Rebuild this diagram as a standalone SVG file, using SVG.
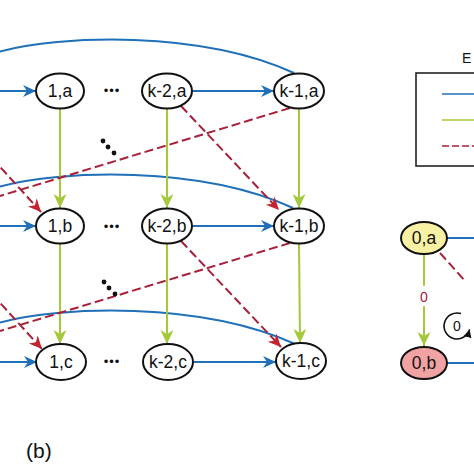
<svg xmlns="http://www.w3.org/2000/svg" width="474" height="474" viewBox="0 0 474 474">
<style>
.node ellipse{fill:#fff;stroke:#111;stroke-width:2}
.node text{font-family:"Liberation Sans",Arial,sans-serif;font-size:17.5px;fill:#111;text-anchor:middle}
.blue{stroke:#1f70b8;stroke-width:2;fill:none}
.green{stroke:#a5c83c;stroke-width:2;fill:none}
.red{stroke:#a8203a;stroke-width:2;fill:none;stroke-dasharray:9,4}
.dots{font-family:"Liberation Sans",Arial,sans-serif;font-size:13px;fill:#111;text-anchor:middle}
</style>
<defs>
<marker id="ab" markerUnits="userSpaceOnUse" markerWidth="14" markerHeight="14" refX="13" refY="7" orient="auto"><path d="M0,1 L13,7 L0,13 L4,7 Z" fill="#1f70b8"/></marker>
<marker id="ag" markerUnits="userSpaceOnUse" markerWidth="15" markerHeight="14" refX="14" refY="7" orient="auto"><path d="M0,0.5 L14,7 L0,13.5 L4,7 Z" fill="#a5c83c"/></marker>
<marker id="ar" markerUnits="userSpaceOnUse" markerWidth="14" markerHeight="14" refX="13" refY="7" orient="auto"><path d="M0,1 L13,7 L0,13 L4,7 Z" fill="#c4242f"/></marker>
<marker id="ak" markerUnits="userSpaceOnUse" markerWidth="10" markerHeight="10" refX="8" refY="5" orient="auto"><path d="M0,1 L8,5 L0,9 Z" fill="#111"/></marker>
</defs>
<g id="connectors">
<path class="blue" d="M-2,52 C60,35 200,30 294,73"/>
<path class="blue" d="M-2,187 C60,170 200,165 293,208"/>
<path class="blue" d="M-2,323 C60,306 200,301 295,344"/>
<line class="blue" x1="0" y1="91" x2="36" y2="91" marker-end="url(#ab)"/>
<line class="blue" x1="192" y1="91" x2="274" y2="91" marker-end="url(#ab)"/>
<line class="blue" x1="0" y1="226" x2="36" y2="226" marker-end="url(#ab)"/>
<line class="blue" x1="192" y1="226" x2="274" y2="226" marker-end="url(#ab)"/>
<line class="blue" x1="0" y1="362" x2="37" y2="362" marker-end="url(#ab)"/>
<line class="blue" x1="193" y1="362" x2="276" y2="362" marker-end="url(#ab)"/>
<line class="blue" x1="447" y1="238" x2="476" y2="238"/>
<line class="blue" x1="447" y1="363" x2="476" y2="363"/>
<line class="green" x1="60" y1="109" x2="60" y2="208" marker-end="url(#ag)"/>
<line class="green" x1="167" y1="109" x2="167" y2="208" marker-end="url(#ag)"/>
<line class="green" x1="299" y1="109" x2="299" y2="208" marker-end="url(#ag)"/>
<line class="green" x1="60" y1="244" x2="60" y2="344" marker-end="url(#ag)"/>
<line class="green" x1="167" y1="244" x2="167" y2="344" marker-end="url(#ag)"/>
<line class="green" x1="299" y1="243" x2="300" y2="343" marker-end="url(#ag)"/>
<line class="green" x1="424" y1="255" x2="424" y2="286"/>
<line class="green" x1="424" y1="306" x2="424" y2="346" marker-end="url(#ag)"/>
<text x="424" y="302" font-family="Liberation Sans,Arial,sans-serif" font-size="14" fill="#a8203a" text-anchor="middle">0</text>
<line class="red" x1="181" y1="106" x2="279" y2="210" marker-end="url(#ar)"/>
<line class="red" x1="181" y1="241" x2="281" y2="347" marker-end="url(#ar)"/>
<line class="red" x1="290" y1="108" x2="0" y2="196"/>
<line class="red" x1="290" y1="243" x2="0" y2="331"/>
<line class="red" x1="-8" y1="158" x2="41" y2="212" marker-end="url(#ar)"/>
<line class="red" x1="-8" y1="294" x2="42" y2="349" marker-end="url(#ar)"/>
<line class="red" x1="440" y1="253" x2="466" y2="282"/>
<path d="M461,313.6 A13,13 0 1 0 469.6,329.4" fill="none" stroke="#111" stroke-width="1.6" marker-end="url(#ak)"/>
<text x="457" y="331" font-family="Liberation Sans,Arial,sans-serif" font-size="14" fill="#111" text-anchor="middle">0</text>
</g>
<g id="n1a" class="node"><ellipse cx="60" cy="91" rx="24" ry="17.5"/><text x="60" y="97">1,a</text></g>
<g id="nk2a" class="node"><ellipse cx="167" cy="91" rx="25" ry="17.5"/><text x="167" y="97">k-2,a</text></g>
<g id="nk1a" class="node"><ellipse cx="299" cy="91" rx="25" ry="17.5"/><text x="299" y="97">k-1,a</text></g>
<g id="n1b" class="node"><ellipse cx="60" cy="226" rx="24" ry="17.5"/><text x="60" y="232">1,b</text></g>
<g id="nk2b" class="node"><ellipse cx="167" cy="226" rx="25" ry="17.5"/><text x="167" y="232">k-2,b</text></g>
<g id="nk1b" class="node"><ellipse cx="299" cy="226" rx="25" ry="17.5"/><text x="299" y="232">k-1,b</text></g>
<g id="n1c" class="node"><ellipse cx="61" cy="362" rx="25" ry="18"/><text x="61" y="368">1,c</text></g>
<g id="nk2c" class="node"><ellipse cx="168" cy="362" rx="25" ry="18"/><text x="168" y="368">k-2,c</text></g>
<g id="nk1c" class="node"><ellipse cx="301" cy="361" rx="25" ry="18"/><text x="301" y="367">k-1,c</text></g>
<g id="n0a" class="node"><ellipse cx="424" cy="238" rx="23" ry="16" style="fill:#f8f0a2"/><text x="424" y="244">0,a</text></g>
<g id="n0b" class="node"><ellipse cx="424" cy="363" rx="23" ry="16" style="fill:#f1a3a3"/><text x="424" y="369">0,b</text></g>
<g id="dots">
<text class="dots" x="112" y="95" letter-spacing="1">•••</text>
<text class="dots" x="112" y="231" letter-spacing="1">•••</text>
<text class="dots" x="112" y="366" letter-spacing="1">•••</text>
<circle cx="103" cy="141" r="2.4" fill="#111"/><circle cx="108" cy="147" r="2.4" fill="#111"/><circle cx="114" cy="153" r="2.4" fill="#111"/>
<circle cx="104" cy="282" r="2.4" fill="#111"/><circle cx="109" cy="288" r="2.4" fill="#111"/><circle cx="115" cy="294" r="2.4" fill="#111"/>
</g>
<g id="legend">
<text x="462" y="63" font-family="Liberation Sans,Arial,sans-serif" font-size="14" fill="#111">E</text>
<rect x="416" y="73" width="80" height="93" fill="none" stroke="#222" stroke-width="1.6"/>
<line class="blue" x1="442" y1="94" x2="476" y2="94" style="stroke-width:1.5"/>
<line class="green" x1="442" y1="120" x2="476" y2="120" style="stroke-width:1.5"/>
<line class="red" x1="442" y1="146" x2="476" y2="146" style="stroke-width:1.5;stroke-dasharray:7,3"/>
</g>
<text x="26" y="458" font-family="Liberation Sans,Arial,sans-serif" font-size="21" fill="#111">(b)</text>
</svg>
